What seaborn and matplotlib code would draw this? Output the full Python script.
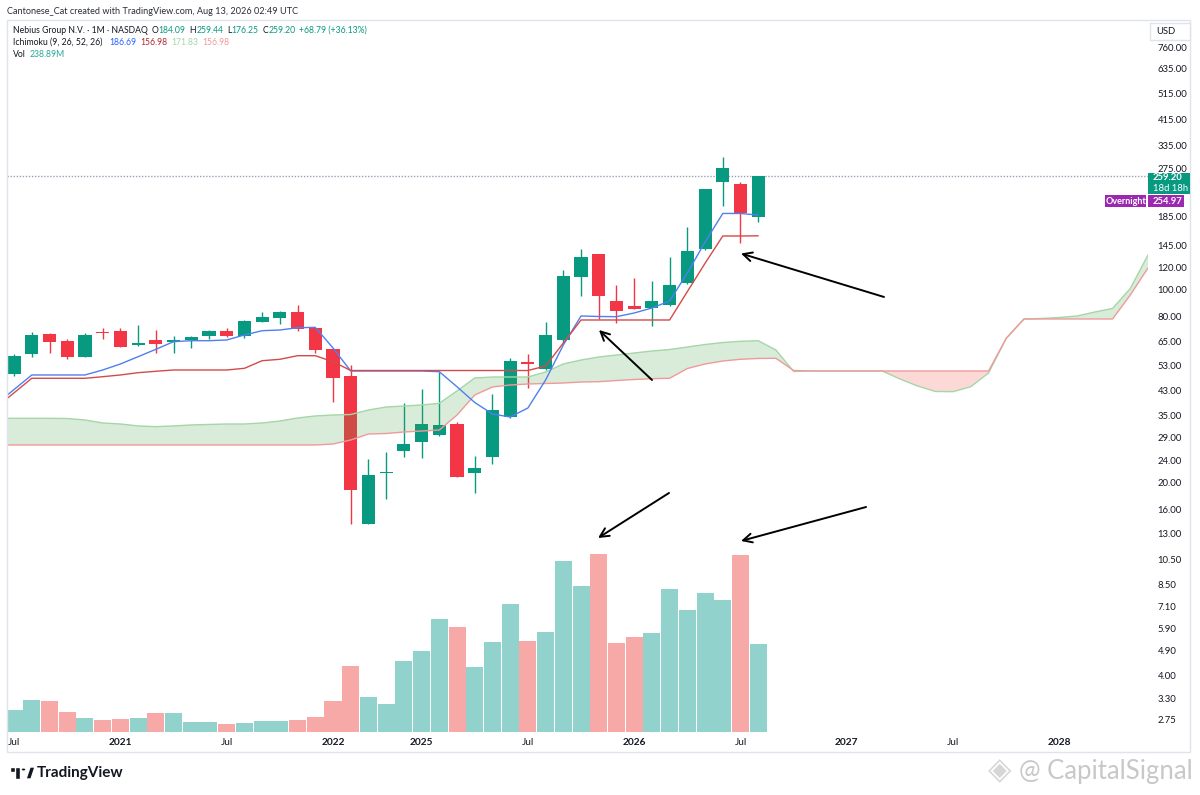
import matplotlib
matplotlib.use("Agg")

import numpy as np
import pandas as pd
import seaborn as sns
from matplotlib import pyplot as plt
from matplotlib import patches
from matplotlib.ticker import FixedLocator, FuncFormatter, NullLocator

# ---- monthly bars (index 0 = Jul 2020 ... 19 = Feb 2022, 20 = Oct 2024 ... 42 = Aug 2026)
bar_idx = np.arange(43)
open_ = np.array([49.37, 58.33, 68.96, 65.36, 57.18, 70.41, 70.88, 62.89, 65.91, 64.50,
                  65.91, 68.15, 70.70, 68.15, 76.43, 79.21, 82.87, 72.51, 61.13, 48.67,
                  14.19, 21.55, 26.01, 28.11, 29.73, 32.59, 21.58, 24.80, 34.55, 54.70,
                  51.59, 65.75, 111.5, 134.5, 91.29, 87.13, 86.10, 87.86, 106.1, 141.0,
                  245.5, 241.4, 184.09])
high = np.array([58.48, 70.12, 69.89, 66.02, 69.89, 72.51, 72.51, 74.72, 71.47, 67.97,
                 68.15, 71.18, 72.51, 77.39, 82.87, 83.99, 87.86, 72.60, 61.50, 53.56,
                 24.37, 25.79, 38.74, 43.55, 50.30, 33.06, 24.94, 41.87, 56.56, 58.24,
                 76.23, 118.0, 141.0, 135.0, 104.1, 110.4, 107.9, 131.9, 168.6, 233.0,
                 302.6, 246.1, 259.44])
low = np.array([48.67, 56.89, 58.83, 56.09, 56.89, 66.46, 61.75, 62.63, 59.13, 58.83,
                61.34, 66.46, 67.52, 67.02, 76.20, 74.97, 70.70, 58.83, 39.06, 14.08,
                14.10, 17.42, 24.67, 24.47, 29.50, 20.90, 18.26, 23.27, 34.30, 43.84,
                51.20, 63.95, 94.95, 78.17, 75.60, 84.90, 74.10, 87.50, 104.7, 140.0,
                201.9, 147.5, 176.25])
close = np.array([57.51, 68.39, 64.82, 57.18, 68.73, 69.83, 62.16, 63.95, 63.74, 65.58,
                  67.42, 70.70, 67.80, 77.07, 79.48, 82.87, 72.08, 60.47, 47.86, 18.77,
                  21.34, 21.82, 27.50, 32.59, 32.40, 20.98, 22.62, 36.54, 55.30, 54.02,
                  68.39, 112.2, 131.9, 94.95, 83.57, 85.40, 90.84, 103.8, 138.7, 231.5,
                  276.0, 190.4, 259.20])
volume_m = np.array([60, 86, 84, 53, 38, 32, 35, 38, 52, 52,
                     28, 26, 22, 24, 30, 30, 33, 42, 84, 178,
                     95, 75, 194, 219, 307, 286, 176, 244, 347, 247,
                     272, 464, 396, 484, 242, 258, 270, 388, 332, 377,
                     359, 481, 238.89])

# ---- Ichimoku (9, 26, 52, 26)
line_idx = np.arange(-1, 43)
conversion = np.array([38.52, 43.48, 49.08, 49.08, 49.08, 49.08, 51.17, 53.80, 57.18, 60.82,
                       64.82, 65.36, 65.36, 65.75, 68.55, 71.05, 71.47, 72.85, 73.06, 61.49,
                       50.74, 50.74, 50.74, 50.74, 50.74, 50.45, 44.47, 39.00, 35.43, 34.55,
                       37.25, 47.06, 63.05, 80.35, 80.01, 79.88, 82.38, 85.89, 91.07, 115.1,
                       149.1, 189.2, 189.2, 186.69])
base = np.array([37.47, 42.30, 47.74, 47.74, 47.74, 47.74, 48.38, 49.08, 50.03, 50.62,
                 51.17, 51.17, 51.17, 51.17, 51.89, 55.30, 55.95, 57.66, 57.66, 54.84,
                 50.95, 50.95, 50.95, 50.95, 50.95, 50.95, 50.95, 50.95, 50.95, 50.95,
                 50.95, 52.90, 64.11, 77.70, 77.70, 77.70, 77.70, 77.70, 77.70, 98.51,
                 124.8, 156.75, 156.75, 156.98])
cloud_idx = np.arange(-1, 65)
span_a = np.array([34.17, 34.17, 34.17, 34.17, 34.12, 33.70, 32.87, 32.59, 32.07, 31.87,
                   32.07, 32.33, 32.46, 32.59, 32.59, 32.87, 33.41, 34.27, 34.85, 35.13,
                   35.28, 36.63, 37.56, 37.88, 38.19, 38.74, 42.94, 47.86, 48.26, 48.26,
                   48.26, 50.32, 53.80, 55.62, 57.04, 57.99, 58.97, 59.97, 60.72, 62.00,
                   63.31, 64.38, 65.03, 65.36, 60.47, 50.53, 50.74, 50.74, 50.74, 50.74,
                   50.74, 47.47, 44.76, 42.76, 42.69, 44.51, 49.90, 66.68, 78.36, 78.69,
                   79.35, 80.35, 83.07, 85.54, 101.1, 133.7])
span_b = np.array([27.35, 27.35, 27.35, 27.35, 27.35, 27.35, 27.35, 27.35, 27.35, 27.35,
                   27.35, 27.35, 27.35, 27.35, 27.35, 27.35, 27.35, 27.35, 27.35, 27.57,
                   28.51, 29.97, 30.10, 30.48, 30.73, 30.99, 35.13, 41.53, 44.40, 45.14,
                   45.52, 45.71, 45.90, 46.28, 46.40, 46.86, 47.26, 47.58, 47.74, 51.81,
                   53.80, 55.16, 55.95, 56.35, 56.42, 50.95, 50.74, 50.74, 50.74, 50.74,
                   50.74, 50.74, 50.74, 50.74, 50.74, 50.74, 50.74, 66.68, 78.36, 78.36,
                   78.36, 78.36, 78.36, 78.36, 95.75, 119.97])

# ---- axis labels
x_tick_pos = [0, 6, 12, 18, 23, 29, 35, 41, 47, 53, 59]
x_tick_labels = ["Jul", "2021", "Jul", "2022", "2025", "Jul", "2026", "Jul", "2027", "Jul", "2028"]
price_ticks = [2.75, 3.30, 4.00, 4.90, 5.90, 7.10, 8.50, 10.50, 13, 16, 20, 24, 29, 35,
               43, 53, 65, 80, 100, 120, 145, 185, 275, 335, 415, 515, 635, 760]
last_close = 259.20
overnight = 254.97

UP, DOWN = "#089981", "#f23645"
VOL_UP, VOL_DOWN = "#92d2cc", "#f7a9a7"
DARK = "#131722"

W, H = 1200, 795


def fx(px):
    return px / W


def fy(py):
    return 1 - py / H


sns.set_theme(style="white")
plt.rcParams["font.family"] = ["Lato", "DejaVu Sans"]

fig = plt.figure(figsize=(12, 7.95), dpi=100)
fig.patch.set_facecolor("white")

rect = [fx(7), fy(732), fx(1148) - fx(7), fy(20) - fy(732)]
ax_vol = fig.add_axes(rect)
ax = fig.add_axes(rect)
ax.patch.set_alpha(0)

# volume overlay
vol_df = pd.DataFrame({
    "idx": bar_idx,
    "vol": volume_m,
    "dir": np.where(close < open_, "down", "up"),
})
sns.barplot(data=vol_df, x="idx", y="vol", hue="dir",
            palette={"up": VOL_UP, "down": VOL_DOWN}, native_scale=True,
            width=0.96, dodge=False, legend=False, errorbar=None,
            saturation=1, linewidth=0, ax=ax_vol)
ax_vol.set_xlim(-0.4, 64.0)
ax_vol.set_ylim(0, 1933)
ax_vol.set_axis_off()

# price pane (log)
ax.set_yscale("log")
ax.set_xlim(-0.4, 64.0)
ax.set_ylim(2.486, 952.6)

up = close >= open_
colors = np.where(up, UP, DOWN)
ax.vlines(bar_idx, low, high, colors=colors, lw=1, zorder=3)
body_lo = np.minimum(open_, close)
body_hi = np.maximum(open_, close)
ax.bar(bar_idx, body_hi - body_lo, bottom=body_lo, width=0.74,
       color=colors, linewidth=0, zorder=4)

# cloud
ax.fill_between(cloud_idx, span_a, span_b, where=span_a >= span_b,
                interpolate=True, color="#43a047", alpha=0.2, lw=0, zorder=5)
ax.fill_between(cloud_idx, span_a, span_b, where=span_a < span_b,
                interpolate=True, color="#f44336", alpha=0.2, lw=0, zorder=5)
sns.lineplot(x=cloud_idx, y=span_a, color="#a5d6a7", lw=1, ax=ax, zorder=5)
sns.lineplot(x=cloud_idx, y=span_b, color="#ef9a9a", lw=1, ax=ax, zorder=5)

# conversion / base lines
sns.lineplot(x=line_idx, y=conversion, color="#4f7ff0", lw=1, ax=ax, zorder=6)
sns.lineplot(x=line_idx, y=base, color="#d44a4a", lw=1, ax=ax, zorder=6)

ax.axhline(last_close, color="#9aa1b4", ls=(0, (1, 1.2)), lw=1, zorder=2)

ax.set_xlabel("")
ax.set_ylabel("")
for side in ["top", "bottom", "left", "right"]:
    ax.spines[side].set_visible(False)

ax.set_xticks(x_tick_pos)
ax.set_xticklabels(x_tick_labels)
for lab in ax.get_xticklabels():
    if lab.get_text().isdigit():
        lab.set_fontweight("bold")
ax.tick_params(axis="x", length=0, pad=4, labelsize=7.3, labelcolor=DARK)

ax.yaxis.tick_right()
ax.yaxis.set_major_locator(FixedLocator(price_ticks))
ax.yaxis.set_minor_locator(NullLocator())
ax.yaxis.set_major_formatter(FuncFormatter(lambda v, p: f"{v:.2f}"))
ax.tick_params(axis="y", length=0, pad=7, labelsize=6.8, labelcolor=DARK)

# annotation arrows
arrows = [((0.7686, 0.6110), (0.6433, 0.6720)),
          ((0.5653, 0.4944), (0.5188, 0.5646)),
          ((0.5802, 0.3357), (0.5180, 0.2725)),
          ((0.7529, 0.3160), (0.6433, 0.2683))]
for tail, head in arrows:
    ax.annotate("", xy=head, xytext=tail, xycoords="axes fraction",
                textcoords="axes fraction",
                arrowprops=dict(arrowstyle="->", color="black", lw=1.4,
                                mutation_scale=16, shrinkA=0, shrinkB=0),
                zorder=8)

# chart frame
fig.patches.append(patches.Rectangle((fx(7), fy(752)), fx(1190) - fx(7), fy(20) - fy(752),
                                     fill=False, edgecolor="#e0e3eb", lw=1,
                                     transform=fig.transFigure))

renderer = fig.canvas.get_renderer()


def draw_runs(x_px, y_px, runs, size):
    x = x_px
    for txt, color, gap in runs:
        t = fig.text(fx(x), fy(y_px), txt, color=color, fontsize=size,
                     va="center", ha="left")
        x += t.get_window_extent(renderer=renderer).width + gap


fig.text(fx(7), fy(11), "Cantonese_Cat created with TradingView.com, Aug 13, 2026 02:49 UTC",
         fontsize=6.6, color="#2a2e39", va="center", ha="left")
draw_runs(13, 30.5, [("Nebius Group N.V. · 1M · NASDAQ", DARK, 4),
                     ("O", DARK, 0), ("184.09", UP, 4),
                     ("H", DARK, 0), ("259.44", UP, 4),
                     ("L", DARK, 0), ("176.25", UP, 4),
                     ("C", DARK, 0), ("259.20", UP, 4),
                     ("+68.79 (+36.13%)", UP, 0)], 6.2)
draw_runs(13, 42.5, [("Ichimoku (9, 26, 52, 26)", DARK, 7),
                     ("186.69", "#2962ff", 4), ("156.98", "#b22833", 4),
                     ("171.83", "#a5d6a7", 4), ("156.98", "#ef9a9a", 0)], 6.2)
draw_runs(13, 54.5, [("Vol", DARK, 4), ("238.89M", "#26a69a", 0)], 6.2)

# price scale badges
fig.patches.append(patches.Rectangle((fx(1150), fy(40)), fx(40), fy(23) - fy(40),
                                     facecolor="white", edgecolor="#e0e3eb", lw=1,
                                     transform=fig.transFigure))
fig.text(fx(1156), fy(31.5), "USD", fontsize=6.8, color=DARK, va="center", ha="left")

fig.patches.append(patches.Rectangle((fx(1148), fy(194)), fx(42), fy(172.5) - fy(194),
                                     facecolor=UP, edgecolor="none",
                                     transform=fig.transFigure))
fig.text(fx(1153), fy(178), f"{last_close:.2f}", fontsize=6.8, color="white",
         va="center", ha="left", fontweight="bold")
fig.text(fx(1153), fy(188.5), "18d 18h", fontsize=6.8, color="white",
         va="center", ha="left")

fig.patches.append(patches.Rectangle((fx(1105), fy(207)), fx(41), fy(195) - fy(207),
                                     facecolor="#9c27b0", edgecolor="none",
                                     transform=fig.transFigure))
fig.text(fx(1125.5), fy(201), "Overnight", fontsize=6.5, color="white",
         va="center", ha="center", fontweight="bold")
fig.patches.append(patches.Rectangle((fx(1148), fy(207)), fx(36), fy(195) - fy(207),
                                     facecolor="#9c27b0", edgecolor="none",
                                     transform=fig.transFigure))
fig.text(fx(1153), fy(201), f"{overnight:.2f}", fontsize=6.8, color="white",
         va="center", ha="left", fontweight="bold")

# TradingView logo
fig.patches.append(patches.Rectangle((fx(10), fy(772)), fx(10), fy(767) - fy(772),
                                     facecolor=DARK, transform=fig.transFigure))
fig.patches.append(patches.Rectangle((fx(15), fy(779)), fx(5), fy(767) - fy(779),
                                     facecolor=DARK, transform=fig.transFigure))
fig.patches.append(patches.Circle((fx(23.5), fy(769.5)), fx(2.5), facecolor=DARK,
                                  transform=fig.transFigure))
fig.patches.append(patches.Polygon([(fx(26), fy(779)), (fx(31), fy(779)),
                                    (fx(35), fy(767)), (fx(30), fy(767))],
                                   closed=True, facecolor=DARK,
                                   transform=fig.transFigure))
fig.text(fx(37), fy(773), "TradingView", fontsize=11, color=DARK,
         fontweight="bold", va="center", ha="left")

# watermark
fig.text(fx(1000), fy(771), "◈", fontsize=22, color="#d6d6d6",
         va="center", ha="center", family="DejaVu Sans")
fig.text(fx(1019), fy(771), "@ CapitalSignal", fontsize=18.5, color="#c8c8c8",
         va="center", ha="left")

fig.savefig("out.png", dpi=100)
